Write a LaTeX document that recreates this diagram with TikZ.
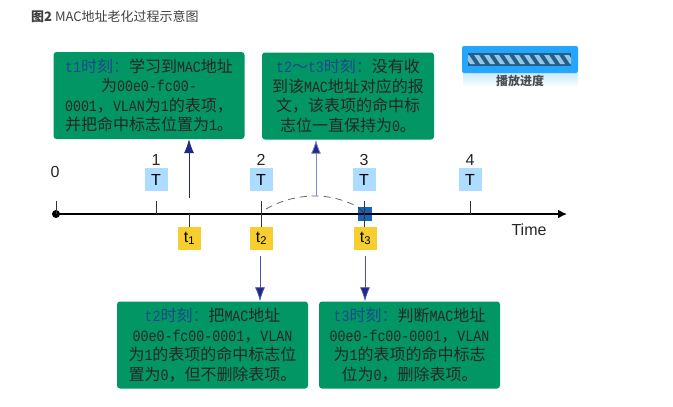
\documentclass[tikz,border=0pt]{standalone}
\usepackage{fontspec}
\usepackage{xcolor}
\usepackage{tikz}
\usetikzlibrary{arrows.meta, positioning, calc}
\setmainfont{Liberation Sans}
\newfontfamily\cjk{Noto Sans CJK SC}
\newfontfamily\latn[Scale=0.98,FakeStretch=0.85]{Liberation Mono}
\newcommand{\la}[1]{{\latn #1}}
\definecolor{boxgreen}{RGB}{2,150,100}
\definecolor{prefixblue}{RGB}{28,72,140}
\definecolor{arrowblue}{RGB}{30,40,135}
\definecolor{paleblue}{RGB}{125,135,195}
\definecolor{midblue}{RGB}{70,85,170}
\definecolor{tblue}{RGB}{172,220,255}
\definecolor{tyellow}{RGB}{246,206,48}
\definecolor{markblue}{RGB}{20,100,185}
\definecolor{barblue}{RGB}{38,166,250}
\definecolor{bardark}{RGB}{35,95,140}
\definecolor{stripe}{RGB}{150,200,228}
\newcommand{\prefix}[1]{\textcolor{prefixblue}{#1}}
\tikzset{
  notebox/.style={
    fill=boxgreen,
    rounded corners=3pt,
    align=center,
    inner sep=0pt,
    minimum height=87pt,
    font=\cjk\fontsize{16}{19.6}\selectfont,
    text=black!85
  },
  tbox/.style={
    fill=tblue,
    minimum width=23pt,
    minimum height=23pt,
    inner sep=0pt,
    font=\fontsize{16}{16}\selectfont
  },
  tmark/.style={
    fill=tyellow,
    minimum width=23pt,
    minimum height=23pt,
    inner sep=0pt,
    font=\fontsize{16}{16}\selectfont
  },
  ticklabel/.style={
    font=\fontsize{16}{16}\selectfont,
    text=black!85,
    inner sep=0pt
  },
  tick/.style={black!80, semithick},
  arrow/.style={-{Latex[length=14pt,width=10pt,fill=arrowblue]}, arrowblue, thick}
}

\begin{document}
\begin{tikzpicture}[x=1pt, y=-1pt]
\useasboundingbox (0,0) rectangle (673,407);

\node[anchor=west, inner sep=0pt, font=\cjk\fontsize{13}{15}\selectfont, text=black!75] (title) at (31,17)
{\textbf{图2} MAC地址老化过程示意图};

% progress bar
\shade[top color=barblue!25, bottom color=white] (463,73) rectangle (578,87);
\node[fill=barblue, rounded corners=2pt, minimum width=116pt, minimum height=27pt, inner sep=0pt] (bar) at (520,59.5) {};
\node[fill=bardark, minimum width=103pt, minimum height=13pt, inner sep=0pt] (barinner) at (519.5,59.5) {};
\begin{scope}
\clip (barinner.south west) rectangle (barinner.north east);
\foreach \x in {464,474,...,574}
  \fill[stripe] (\x,55) -- (\x+5,55) -- (\x+11,64) -- (\x+6,64) -- cycle;
\end{scope}
\node[font=\cjk\bfseries\fontsize{12}{14}\selectfont, text=black!70, inner sep=0pt] (barlabel) at (520,81) {播放进度};

% note boxes
\node[notebox, minimum width=191pt] (tonebox) at (149,95.5)
{\prefix{\la{t1}时刻：}学习到\la{MAC}地址\\为\la{00e0-fc00-}\\\la{0001}，\la{VLAN}为\la{1}的表项，\\并把命中标志位置为\la{1}。};

\node[notebox, minimum width=172pt] (twothreebox) at (348,96)
{\prefix{\la{t2}～\la{t3}时刻：}没有收\\到该\la{MAC}地址对应的报\\文，该表项的命中标\\志位一直保持为\la{0}。};

\node[notebox, minimum width=191pt] (ttwobox) at (212.5,345)
{\prefix{\la{t2}时刻：}把\la{MAC}地址\\\la{00e0-fc00-0001}，\la{VLAN}\\为\la{1}的表项的命中标志位\\置为\la{0}，但不删除表项。};

\node[notebox, minimum width=181pt] (tthreebox) at (409.5,345)
{\prefix{\la{t3}时刻：}判断\la{MAC}地址\\\la{00e0-fc00-0001}，\la{VLAN}\\为\la{1}的表项的命中标志\\位为\la{0}，删除表项。};

% time axis
\coordinate (origin) at (56,214);
\coordinate (axisend) at (567,214);
\node[tbox] (tone) at (156,179.5) {T};
\node[tbox] (ttwo) at (261,179.5) {T};
\node[tbox] (tthree) at (364,179.5) {T};
\node[tbox] (tfour) at (470,179.5) {T};
\node[ticklabel] (zero) at (55,172) {0};
\node[ticklabel, above=2pt of tone] (one) {1};
\node[ticklabel, above=2pt of ttwo] (two) {2};
\node[ticklabel, above=2pt of tthree] (three) {3};
\node[ticklabel, above=2pt of tfour] (four) {4};
\node[ticklabel] (time) at (529,230) {Time};

\node[tmark] (mone) at (189.5,238.5) {t\textsubscript{1}};
\node[tmark] (mtwo) at (261.5,238.5) {t\textsubscript{2}};
\node[tmark] (mthree) at (365.5,238.5) {t\textsubscript{3}};
\node[fill=markblue, minimum width=14pt, minimum height=14pt, inner sep=0pt] (square) at (365,214) {};

\draw[-{Latex[length=9pt,width=9pt]}, black, line width=1.6pt] (origin) -- (axisend);
\fill[black] (origin) circle (4pt);

\coordinate (zerotick) at (56,201);
\coordinate (onetick) at (156,201);
\coordinate (twotick) at (261,201);
\coordinate (threetick) at (364,201);
\coordinate (fourtick) at (470,201);
\draw[tick] (zerotick) -- (zerotick |- origin);
\draw[tick] (onetick) -- (onetick |- origin);
\draw[tick] (twotick) -- (twotick |- mtwo.north);
\draw[tick] (threetick) -- (threetick |- mthree.north);
\draw[tick] (fourtick) -- (fourtick |- origin);
\draw[tick] (mone.north) -- (mone.north |- origin);

% dashed arc
\coordinate (arcstart) at (266,209);
\coordinate (arctop) at (316,196);
\coordinate (arcend) at (358,207);
\draw[black!60, thick, dash pattern=on 7pt off 5pt] (arcstart) .. controls (282,200) and (298,196) .. (arctop) .. controls (330,196) and (345,200) .. (arcend);
\draw[tick] (arcend) -- (square.center);

% arrows
\coordinate (onestart) at (189,198);
\coordinate (twostart) at (260,256);
\coordinate (threestart) at (365,256);
\draw[arrow] (onestart) -- (onestart |- tonebox.south);
\draw[arrow, draw=paleblue] (arctop) -- (arctop |- twothreebox.south);
\draw[arrow, draw=midblue] (twostart) -- (twostart |- ttwobox.north);
\draw[arrow, draw=midblue] (threestart) -- (threestart |- tthreebox.north);

\end{tikzpicture}
\end{document}
